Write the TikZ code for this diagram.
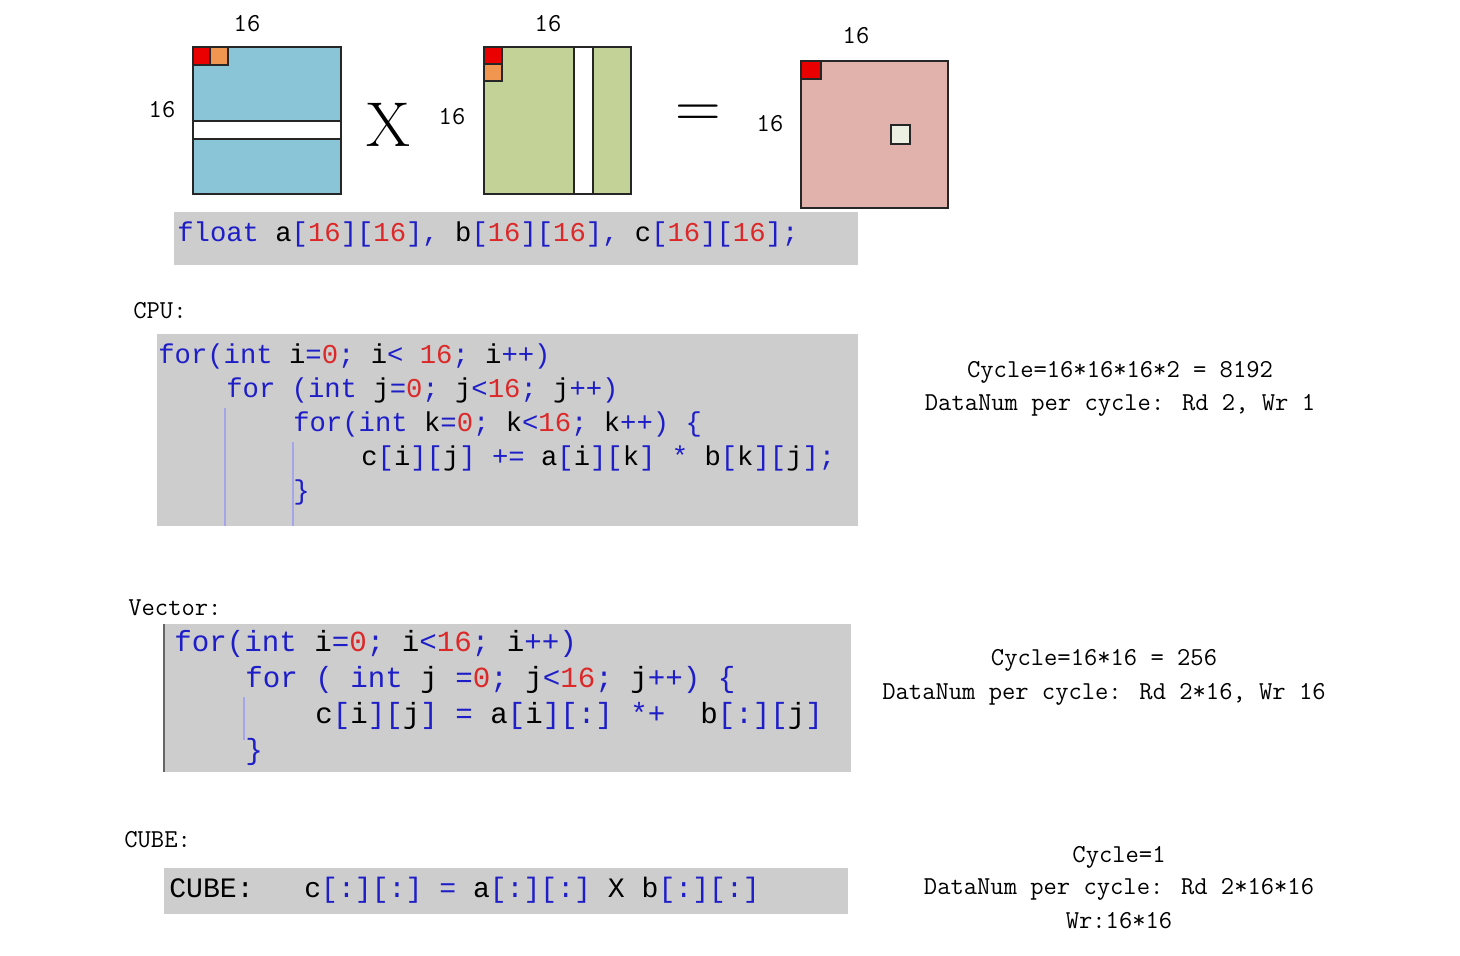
\documentclass[tikz,border=0pt]{standalone}
\usepackage{fontspec}
\setmonofont{Liberation Mono}
\newfontfamily\lblfont{Latin Modern Mono}
\definecolor{kwblue}{RGB}{30,30,200}
\definecolor{nmred}{RGB}{220,40,40}
\definecolor{codegray}{RGB}{205,205,205}
\definecolor{matA}{RGB}{137,197,214}
\definecolor{matB}{RGB}{195,211,152}
\definecolor{matC}{RGB}{225,177,172}
\definecolor{cellred}{RGB}{235,0,0}
\definecolor{cellorange}{RGB}{240,150,80}
\newcommand\kw[1]{\textcolor{kwblue}{#1}}
\newcommand\nm[1]{\textcolor{nmred}{#1}}
\tikzset{
  codebox/.style={fill=codegray, draw=none},
  codeline/.style={anchor=west, inner sep=0pt, font=\fontsize{15.5}{16}\ttfamily},
  vecline/.style={anchor=west, inner sep=0pt, font=\fontsize{16.6}{17}\ttfamily},
  lbl/.style={inner sep=0pt, font=\fontsize{14.7}{16}\lblfont},
  guide/.style={draw=kwblue!40, line width=0.6pt},
  mat/.style={draw=black!85, line width=1pt},
  cell/.style={draw=black!85, line width=0.6pt}
}
\begin{document}
\begin{tikzpicture}[x=0.02cm, y=-0.02cm]
    \useasboundingbox (0,0) rectangle (1460,956);
    % Matrizen
    \draw [mat, fill=matA] (193,47) rectangle (341,194);
    \draw [mat, fill=white] (193,121) rectangle (341,139);
    \draw [cell, fill=cellred] (193,47) rectangle (210,65);
    \draw [cell, fill=cellorange] (210,47) rectangle (228,65);
    \draw [mat, fill=matB] (484,47) rectangle (631,194);
    \draw [mat, fill=white] (574,47) rectangle (593,194);
    \draw [cell, fill=cellred] (484,47) rectangle (502,64);
    \draw [cell, fill=cellorange] (484,64) rectangle (502,81);
    \draw [mat, fill=matC] (801,61) rectangle (948,208);
    \draw [cell, fill=cellred] (801,61) rectangle (821,79);
    \draw [cell, fill={rgb,255:red,236;green,240;blue,226}] (891,125) rectangle (910,144);
    \node [lbl] (aTop) at (247,24) {16};
    \node [lbl] (aLeft) at (162,110) {16};
    \node [lbl] (bTop) at (548,24) {16};
    \node [lbl] (bLeft) at (452,117) {16};
    \node [lbl] (cTop) at (856,36) {16};
    \node [lbl] (cLeft) at (770,124) {16};
    \node [inner sep=0pt, font=\fontsize{36}{36}\selectfont] (times) at (388,125) {X};
    \node [inner sep=0pt, font=\fontsize{36}{36}\selectfont] (equals) at (698,116) {=};
    % Deklaration
    \fill [codebox] (174,212) rectangle (858,265);
    \node [codeline] (decl) at (177,234)
        {\kw{float} a\kw{[}\nm{16}\kw{][}\nm{16}\kw{],} b\kw{[}\nm{16}\kw{][}\nm{16}\kw{],} c\kw{[}\nm{16}\kw{][}\nm{16}\kw{];}};
    % CPU
    \node [lbl, anchor=west] (cpu) at (133,311) {CPU:};
    \fill [codebox] (157,334) rectangle (858,526);
    \draw [guide] (225,408) -- (225,526);
    \draw [guide] (293,442) -- (293,526);
    \node [codeline] (cpuA) at (158,356) {\kw{for(int} i\kw{=}\nm{0}\kw{;} i\kw{<} \nm{16}\kw{;} i\kw{++)}};
    \node [codeline] (cpuB) at (226,390) {\kw{for} \kw{(int} j\kw{=}\nm{0}\kw{;} j\kw{<}\nm{16}\kw{;} j\kw{++)}};
    \node [codeline] (cpuC) at (293,424) {\kw{for(int} k\kw{=}\nm{0}\kw{;} k\kw{<}\nm{16}\kw{;} k\kw{++)} \kw{\{}};
    \node [codeline] (cpuD) at (361,458) {c\kw{[}i\kw{][}j\kw{]} \kw{+=} a\kw{[}i\kw{][}k\kw{]} \kw{*} b\kw{[}k\kw{][}j\kw{];}};
    \node [codeline] (cpuE) at (293,492) {\kw{\}}};
    \node [lbl] (cpuCyc) at (1120,372) {Cycle=16*16*16*2 = 8192};
    \node [lbl] (cpuData) at (1120,405) {DataNum per cycle: Rd 2, Wr 1};
    % Vector
    \node [lbl, anchor=west] (vec) at (128,608) {Vector:};
    \fill [codebox] (164,624) rectangle (851,772);
    \draw [black!60, line width=0.8pt] (164,624) -- (164,772);
    \draw [guide] (244,697) -- (244,740);
    \node [vecline] (vecA) at (174,644) {\kw{for(int} i\kw{=}\nm{0}\kw{;} i\kw{<}\nm{16}\kw{;} i\kw{++)}};
    \node [vecline] (vecB) at (245,680) {\kw{for} \kw{(} \kw{int} j \kw{=}\nm{0}\kw{;} j\kw{<}\nm{16}\kw{;} j\kw{++)} \kw{\{}};
    \node [vecline] (vecC) at (315,716) {c\kw{[}i\kw{][}j\kw{]} \kw{=} a\kw{[}i\kw{][:]} \kw{*+}~ b\kw{[:][}j\kw{]}};
    \node [vecline] (vecD) at (245,752) {\kw{\}}};
    \node [lbl] (vecCyc) at (1104,660) {Cycle=16*16 = 256};
    \node [lbl] (vecData) at (1104,694) {DataNum per cycle: Rd 2*16, Wr 16};
    % CUBE
    \node [lbl, anchor=west] (cube) at (124,840) {CUBE:};
    \fill [codebox] (164,868) rectangle (848,914);
    \node [vecline, font=\fontsize{16}{17}\ttfamily] (cubeA) at (169,890)
        {CUBE:~~ c\kw{[:][:]} \kw{=} a\kw{[:][:]} X b\kw{[:][:]}};
    \node [lbl] (cubeCyc) at (1119,857) {Cycle=1};
    \node [lbl] (cubeData) at (1119,889) {DataNum per cycle: Rd 2*16*16};
    \node [lbl] (cubeWr) at (1119,921) {Wr:16*16};
\end{tikzpicture}
\end{document}
